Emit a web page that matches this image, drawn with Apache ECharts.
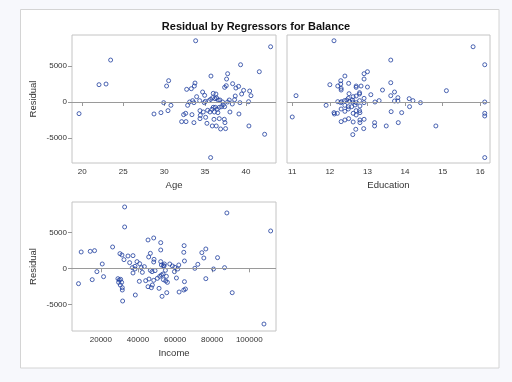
<!DOCTYPE html>
<html>
<head>
<meta charset="utf-8">
<script src="https://cdn.jsdelivr.net/npm/echarts@6/dist/echarts.min.js"></script>
<style>
html,body{margin:0;padding:0;background:#f7f8fc;}
#c{width:512px;height:382px;}
</style>
</head>
<body>
<div id="c"></div>
<script>
// ---- Data ----
const titleText = "Residual by Regressors for Balance";
const yTicks = [-5000, 0, 5000];
const ageTicks = [20, 25, 30, 35, 40];
const eduTicks = [11, 12, 13, 14, 15, 16];
const incomeTicks = [20000, 40000, 60000, 80000, 100000];

const age = [19.6,22.04,22.9,23.46,28.76,29.61,29.94,30.47,30.83,30.3,30.55,32.14,32.67,32.38,32.63,33.4,32.75,33.32,33.69,33.77,33.85,32.87,33.11,33.48,33.64,33.97,34.34,34.7,34.38,34.42,34.38,35.07,34.78,35.23,35.88,36.37,36.9,37.51,33.64,34.91,35.03,35.48,35.68,36.0,36.33,35.92,36.21,36.41,36.61,36.82,37.14,37.23,37.39,37.02,36.74,36.49,36.25,36.0,35.84,35.6,35.31,36.13,36.57,36.09,36.74,37.35,37.43,38.04,39.14,40.36,42.28,35.68,37.63,37.39,37.59,38.37,38.77,39.1,39.47,39.71,40.45,40.61,38.69,38.61,39.26,40.32,37.76,37.96,38.33,39.34,41.63,43.01,37.76,35.72,34.95];
const ageResid = [-1611,2394,2486,5800,-1657,-1473,-92,-1197,-460,2209,2946,-2716,-2716,-1749,-1565,-1749,1749,1841,2209,2624,8470,-460,0,184,-92,736,184,1381,-1197,-1841,-2302,-2117,-1381,-2946,-3314,-3314,-3728,-3682,-2854,-92,92,184,368,1197,1105,598,460,552,276,276,0,-368,-644,-644,-736,-1013,-736,-736,-1013,-1381,-1151,-1381,-1473,-2394,-2302,-2394,-2854,-1381,-1657,-3314,-4465,-7687,3176,2025,2255,2532,1933,2163,1105,1611,1519,875,829,322,-92,46,0,276,-276,5155,4189,7641,3913,3590,920];

const education = [12.11,15.81,16.12,13.62,13.0,12.91,12.91,12.4,12.0,12.29,12.29,12.21,12.3,12.3,12.5,12.7,12.83,12.7,13.0,13.62,13.4,13.72,15.1,11.1,12.51,12.7,12.79,12.79,12.62,12.6,12.49,12.39,12.31,12.21,12.29,12.45,12.52,12.61,12.7,12.79,12.91,12.91,13.09,13.2,13.31,13.62,13.72,13.81,13.81,14.11,14.21,14.41,14.12,13.91,13.63,12.7,12.79,12.8,12.7,12.62,12.49,12.4,12.3,12.11,12.12,12.2,12.3,12.4,12.5,12.62,12.8,12.8,12.69,12.9,12.61,12.91,13.19,13.19,13.5,13.82,14.82,16.12,16.12,16.12,16.12,11.0,11.9,12.4,12.49,12.58,12.67,12.8];
const eduResid = [8470,7641,5155,5800,4189,3913,3176,3590,2394,2946,2486,2209,1887,1657,2578,2209,2209,2025,2071,2670,1657,1381,1565,875,1151,829,1105,1289,736,276,506,184,46,46,-92,276,92,0,-92,184,506,-92,1013,0,184,875,138,598,138,460,184,-92,-644,-1473,-1335,-1197,-1197,-1473,-1795,-1565,-967,-1289,-967,-1473,-1657,-1565,-2716,-2486,-2302,-2762,-2486,-2854,-3774,-3682,-4511,-2394,-2854,-3314,-3314,-2854,-3314,0,-1565,-1933,-7687,-2071,-460,-460,-644,-644,-414,-552];

const income = [32812,32812,87938,111544,107940,90821,7945,9386,14251,16594,26325,15332,17855,20739,21460,30290,31371,32452,34614,35515,37317,39480,38398,36957,38398,37317,31731,38579,30650,31191,30470,31551,31551,29208,29929,29569,40742,42364,43445,45427,48490,52274,52274,48490,45787,46688,48670,52274,52634,53715,54256,54076,54797,55337,55878,57139,58581,59662,64888,64707,65068,65068,60743,61464,62004,62185,65609,64707,55518,52995,51373,48490,47769,47229,45427,44166,45968,46688,47589,49211,50472,51734,52634,53535,53715,54977,59842,70655,72277,74439,75520,76602,76602,80746,82909,86693,40922,41824];
const incomeResid = [8519,5741,7686,5186,-7732,-3380,-2130,2269,2361,2454,2963,-1574,-463,602,-1158,2037,1852,1204,1713,787,1759,926,278,93,-93,-648,-4537,-3704,-1528,-1945,-2315,-2685,-3010,-1435,-1621,-1945,-1806,-556,232,3936,4213,3565,2547,880,1574,2084,1250,926,463,370,602,324,-278,-1111,-1945,602,324,-463,3148,2222,1019,-1852,-1343,-93,463,-3287,-2871,-3010,-3380,-3889,-2778,-1667,-2315,-2685,-2547,-1713,-1482,-278,-463,-324,-1389,-1111,-926,-787,-1574,-1759,139,0,556,2176,1435,2685,-1435,-93,1482,93,648,93];

// ---- Chart ----
const zip = (xs, ys) => xs.map((x, i) => [x, ys[i]]);
const markerColor = '#1f3f9f';
const frameColor = '#c4c4c4';
const textColor = '#333333';
const fontFam = '"Liberation Sans", Arial, sans-serif';
const plain = v => String(v);

const grids = [
  {left: 72, top: 35, width: 204, height: 128},
  {left: 287, top: 35, width: 203, height: 128},
  {left: 72, top: 202, width: 204, height: 129}
];
const xDefs = [
  {name: 'Age', min: 18.74, max: 43.67, ticks: ageTicks},
  {name: 'Education', min: 10.86, max: 16.26, ticks: eduTicks},
  {name: 'Income', min: 4434, max: 114430, ticks: incomeTicks}
];
const yDefs = [
  {min: -8436, max: 9266, show: true},
  {min: -8436, max: 9266, show: false},
  {min: -8700, max: 9207, show: true}
];

const option = {
  animation: false,
  backgroundColor: 'transparent',
  textStyle: {fontFamily: fontFam},
  title: {
    text: titleText, left: 'center', top: 16,
    textStyle: {fontSize: 11, fontWeight: 'bold', color: '#111', fontFamily: fontFam}
  },
  graphic: [{
    type: 'rect', z: -10, silent: true,
    shape: {x: 20.5, y: 9.5, width: 478.5, height: 358.5},
    style: {fill: '#ffffff', stroke: '#d4d4d4', lineWidth: 1}
  }],
  grid: grids.map(g => Object.assign({show: true, borderColor: frameColor, borderWidth: 1, backgroundColor: '#fff'}, g)),
  xAxis: xDefs.map((d, i) => ({
    type: 'value', gridIndex: i, min: d.min, max: d.max,
    name: d.name, nameLocation: 'middle', nameGap: 17,
    nameTextStyle: {fontSize: 9.5, color: textColor, fontFamily: fontFam},
    axisLine: {show: false},
    splitLine: {show: false},
    axisTick: {show: true, length: 4, lineStyle: {color: '#999'}, customValues: d.ticks},
    axisLabel: {fontSize: 8, color: textColor, margin: 5, customValues: d.ticks, formatter: plain, fontFamily: fontFam}
  })),
  yAxis: yDefs.map((d, i) => ({
    type: 'value', gridIndex: i, min: d.min, max: d.max,
    name: d.show ? 'Residual' : '', nameLocation: 'middle', nameGap: 34,
    nameTextStyle: {fontSize: 9.5, color: textColor, fontFamily: fontFam},
    axisLine: {show: false},
    splitLine: {show: false},
    axisTick: {show: d.show, length: 4, lineStyle: {color: '#999'}, customValues: yTicks},
    axisLabel: {show: d.show, fontSize: 8, color: textColor, margin: 5, customValues: yTicks, formatter: plain, fontFamily: fontFam}
  })),
  series: [zip(age, ageResid), zip(education, eduResid), zip(income, incomeResid)].map((data, i) => ({
    type: 'scatter', xAxisIndex: i, yAxisIndex: i, data: data,
    symbol: 'circle', symbolSize: 4,
    itemStyle: {color: 'rgba(255,255,255,0)', borderColor: markerColor, borderWidth: 1},
    markLine: {
      silent: true, symbol: 'none', label: {show: false},
      lineStyle: {color: '#9a9a9a', width: 1, type: 'solid'},
      data: [{yAxis: 0}]
    }
  }))
};
const chart = echarts.init(document.getElementById('c'), null, {renderer: 'canvas'});
chart.setOption(option);
</script>
</body>
</html>
